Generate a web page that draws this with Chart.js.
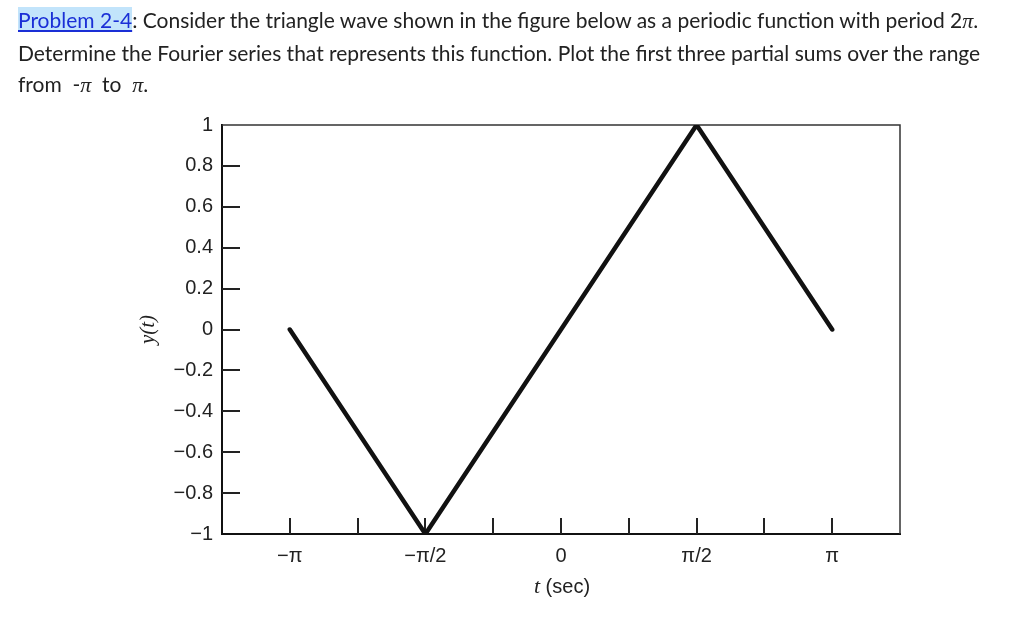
<!DOCTYPE html>
<html>
<head>
<meta charset="utf-8">
<script src="https://cdn.jsdelivr.net/npm/chart.js@4.4.1/dist/chart.umd.min.js"></script>
<style>
  html, body { margin: 0; padding: 0; background: #fff; }
  body { width: 1024px; height: 620px; position: relative; overflow: hidden; }
  #c { position: absolute; left: 0; top: 0; }
  #prob { position: absolute; left: 18px; top: 4px; font-family: Lato, "Open Sans", sans-serif; font-size: 21px; line-height: 31.5px; color: #222; white-space: nowrap; }
  #prob .link { color: #1a2fd6; text-decoration: underline; background: #c2e4fb; }
  #prob .pi { font-family: "Liberation Serif", serif; font-style: italic; font-size: 22px; }
  #xt { position: absolute; left: 0; width: 1124px; top: 573px; text-align: center; font-family: "Liberation Sans", Arial, sans-serif; font-size: 20px; color: #222; }
  #xt i { font-family: "Liberation Serif", serif; font-size: 22px; }
</style>
</head>
<body>
<canvas id="c" width="1024" height="620"></canvas>
<div id="prob"><span class="link">Problem 2-4</span>: Consider the triangle wave shown in the figure below as a periodic function with period 2<span class="pi">π</span>.<br>Determine the Fourier series that represents this function. Plot the first three partial sums over the range<br>from &nbsp;-<span class="pi">π</span>&nbsp; to &nbsp;<span class="pi">π</span>.</div>
<div id="xt"><i>t</i> (sec)</div>
<script>
const PI = Math.PI;
// Triangle wave vertices (t in radians, y(t))
const tValues = [-PI, -PI / 2, PI / 2, PI];
const yValues = [0, -1, 1, 0];
// Axis range and ticks
const xMin = -5 * PI / 4, xMax = 5 * PI / 4;
const xTickValues = [-PI, -3 * PI / 4, -PI / 2, -PI / 4, 0, PI / 4, PI / 2, 3 * PI / 4, PI];
const xTickLabels = ['−π', '', '−π/2', '', '0', '', 'π/2', '', 'π'];
const yTickValues = [-1, -0.8, -0.6, -0.4, -0.2, 0, 0.2, 0.4, 0.6, 0.8, 1];
const yTickLabels = ['−1', '−0.8', '−0.6', '−0.4', '−0.2', '0', '0.2', '0.4', '0.6', '0.8', '1'];

const points = tValues.map((t, i) => ({ x: t, y: yValues[i] }));

const frameAndTicks = {
  id: 'frameAndTicks',
  beforeDatasetsDraw(chart) {
    const { ctx, chartArea: a, scales } = chart;
    ctx.save();
    ctx.strokeStyle = '#222';
    ctx.lineWidth = 2;
    ctx.beginPath();
    // inward ticks on x axis
    xTickValues.forEach(v => {
      const px = Math.round(scales.x.getPixelForValue(v));
      ctx.moveTo(px, a.bottom);
      ctx.lineTo(px, a.bottom - 16);
    });
    // inward ticks on y axis (excluding ends)
    yTickValues.slice(1, -1).forEach(v => {
      const py = Math.round(scales.y.getPixelForValue(v));
      ctx.moveTo(a.left, py);
      ctx.lineTo(a.left + 18, py);
    });
    ctx.stroke();
    // top and right frame lines
    ctx.strokeStyle = '#333';
    ctx.lineWidth = 1.5;
    ctx.beginPath();
    ctx.moveTo(a.left, a.top);
    ctx.lineTo(a.right, a.top);
    ctx.lineTo(a.right, a.bottom);
    ctx.stroke();
    ctx.restore();
  }
};

new Chart(document.getElementById('c'), {
  type: 'line',
  data: {
    datasets: [{
      data: points,
      borderColor: '#111',
      borderWidth: 4.5,
      pointRadius: 0,
      tension: 0,
      borderJoinStyle: 'miter',
      borderCapStyle: 'round',
      fill: false
    }]
  },
  options: {
    responsive: false,
    animation: false,
    devicePixelRatio: 1,
    layout: { padding: { left: 0, top: 125, right: 124, bottom: 0 } },
    plugins: { legend: { display: false }, tooltip: { enabled: false }, title: { display: false } },
    scales: {
      x: {
        type: 'linear',
        min: xMin,
        max: xMax,
        afterBuildTicks: s => { s.ticks = xTickValues.map(v => ({ value: v })); },
        afterFit: s => { s.height = 86; },
        ticks: {
          autoSkip: false,
          maxRotation: 0,
          padding: 10,
          color: '#222',
          font: { family: 'Liberation Sans', size: 20 },
          callback: (v, i) => xTickLabels[i]
        },
        grid: { display: false, drawTicks: false },
        border: { display: true, color: '#111', width: 2 }
      },
      y: {
        type: 'linear',
        min: -1,
        max: 1,
        afterBuildTicks: s => { s.ticks = yTickValues.map(v => ({ value: v })); },
        afterFit: s => { s.width = 222; },
        ticks: {
          autoSkip: false,
          padding: 9,
          color: '#222',
          font: { family: 'Liberation Sans', size: 20 },
          callback: (v, i) => yTickLabels[i]
        },
        grid: { display: false, drawTicks: false },
        border: { display: true, color: '#111', width: 2 },
        title: {
          display: true,
          text: 'y(t)',
          color: '#222',
          font: { family: 'Liberation Serif', style: 'italic', size: 21 },
          padding: { top: 136, bottom: 0 }
        }
      }
    }
  },
  plugins: [frameAndTicks]
});
</script>
</body>
</html>
